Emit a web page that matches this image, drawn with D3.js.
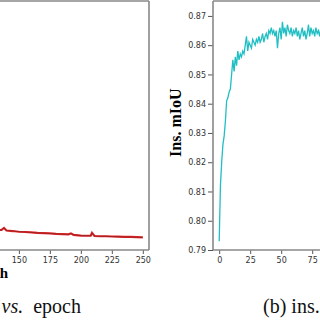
<!DOCTYPE html>
<html>
<head>
<meta charset="utf-8">
<script src="https://cdn.jsdelivr.net/npm/d3@7"></script>
<style>
  body { margin: 0; background: #fff; }
  svg { display: block; }
  .tick text { font-family: "DejaVu Sans", sans-serif; font-size: 8px; fill: #333; }
  .tick line { stroke: #555; }
  .domain { display: none; }
</style>
</head>
<body>
<script>
// loss panel (a), only the tail is in view
var lossEpochs = [120, 125, 130, 134, 136, 138, 140, 145, 150, 155, 160, 165, 170, 175, 180, 185, 190, 192, 194, 200, 205, 208, 209, 211, 215, 220, 225, 230, 235, 240, 245, 250];
var lossValues = [0.090, 0.088, 0.086, 0.084, 0.085, 0.093, 0.082, 0.080, 0.077, 0.076, 0.074, 0.072, 0.071, 0.070, 0.068, 0.067, 0.066, 0.070, 0.064, 0.061, 0.060, 0.060, 0.072, 0.059, 0.058, 0.058, 0.057, 0.056, 0.055, 0.055, 0.054, 0.0535];
var lossTicks = [150, 175, 200, 225, 250];

// ins. mIoU panel (b), epoch 0..82 in view
var miouValues = [0.793, 0.812, 0.820, 0.826, 0.829, 0.834, 0.841, 0.842, 0.844, 0.845,
  0.850, 0.855, 0.851, 0.856, 0.853, 0.858, 0.855, 0.857, 0.856, 0.858,
  0.857, 0.860, 0.863, 0.858, 0.861, 0.860, 0.859, 0.862, 0.861, 0.860,
  0.862, 0.861, 0.863, 0.861, 0.862, 0.864, 0.861, 0.863, 0.864, 0.862,
  0.865, 0.864, 0.866, 0.864, 0.865, 0.863, 0.865, 0.859, 0.864, 0.866,
  0.862, 0.868, 0.864, 0.866, 0.863, 0.867, 0.865, 0.864, 0.866, 0.863,
  0.865, 0.864, 0.866, 0.863, 0.865, 0.862, 0.864, 0.866, 0.863, 0.865,
  0.862, 0.864, 0.867, 0.863, 0.866, 0.864, 0.865, 0.863, 0.866, 0.864,
  0.865, 0.863, 0.866];
var miouYTicks = [0.79, 0.80, 0.81, 0.82, 0.83, 0.84, 0.85, 0.86, 0.87];
var miouXTicks = [0, 25, 50, 75];

var w = 320, h = 320;
var plotTop = 1, plotBottom = 250;

var svg = d3.select('body').append('svg').attr('width', w).attr('height', h);

// ---- panel (a) ----
var xa = d3.scaleLinear().domain([-12.5, 255]).range([-182.5, 149]);
var ya = d3.scaleLinear().domain([0, 1.05]).range([plotBottom, plotTop]);

var ga = svg.append('g');
ga.append('g')
  .attr('transform', 'translate(0,' + plotBottom + ')')
  .call(d3.axisBottom(xa).tickValues(lossTicks).tickSize(4).tickPadding(3));

var lineA = d3.line()
  .x(function(d, i) { return xa(lossEpochs[i]); })
  .y(function(d) { return ya(d); });

ga.append('path').datum(lossValues)
  .attr('d', lineA).attr('fill', 'none')
  .attr('stroke', '#e8262a').attr('stroke-width', 2.2);
ga.append('path').datum(lossValues)
  .attr('d', lineA).attr('fill', 'none')
  .attr('stroke', '#7a1f1f').attr('stroke-width', 0.7);

// spines
var xaEnd = xa.range()[1];
ga.append('line').attr('x1', 0).attr('x2', xaEnd).attr('y1', plotTop).attr('y2', plotTop)
  .attr('stroke', '#888').attr('stroke-width', 1.6);
ga.append('line').attr('x1', xaEnd).attr('x2', xaEnd).attr('y1', plotTop).attr('y2', plotBottom)
  .attr('stroke', '#888').attr('stroke-width', 1.6);
ga.append('line').attr('x1', 0).attr('x2', xaEnd).attr('y1', plotBottom).attr('y2', plotBottom)
  .attr('stroke', '#888').attr('stroke-width', 1.6);

// x label tail and caption
ga.append('text').attr('x', 8).attr('y', 278).attr('text-anchor', 'end')
  .style('font-family', '"Liberation Serif", serif').style('font-weight', 'bold').style('font-size', '15px')
  .text('Epoch');

var capA = ga.append('text').attr('x', 81).attr('y', 313).attr('text-anchor', 'end')
  .style('font-family', '"Liberation Serif", serif').style('font-size', '20px').attr('fill', '#111');
capA.append('tspan').text('(a) training loss ');
capA.append('tspan').style('font-style', 'italic').text('vs.');
capA.append('tspan').text('\u00a0 epoch');

// ---- panel (b) ----
var xb = d3.scaleLinear().domain([-5, 105]).range([213, 213 + 110 * 1.24]);
var yb = d3.scaleLinear().domain([0.79, 0.8751]).range([plotBottom, plotTop]);

var gb = svg.append('g');
gb.append('g')
  .attr('transform', 'translate(0,' + plotBottom + ')')
  .call(d3.axisBottom(xb).tickValues(miouXTicks).tickSize(4).tickPadding(3));
gb.append('g')
  .attr('transform', 'translate(213,0)')
  .call(d3.axisLeft(yb).tickValues(miouYTicks).tickFormat(d3.format('.2f')).tickSize(5).tickPadding(2));

gb.append('path').datum(miouValues)
  .attr('d', d3.line().x(function(d, i) { return xb(i); }).y(function(d) { return yb(d); }))
  .attr('fill', 'none').attr('stroke', '#1fbfc4').attr('stroke-width', 1.3);

gb.append('line').attr('x1', 213).attr('x2', 213).attr('y1', plotTop).attr('y2', plotBottom)
  .attr('stroke', '#888').attr('stroke-width', 1.6);
gb.append('line').attr('x1', 213).attr('x2', w).attr('y1', plotTop).attr('y2', plotTop)
  .attr('stroke', '#888').attr('stroke-width', 1.6);
gb.append('line').attr('x1', 213).attr('x2', w).attr('y1', plotBottom).attr('y2', plotBottom)
  .attr('stroke', '#888').attr('stroke-width', 1.6);

gb.append('text')
  .attr('transform', 'translate(181,' + yb(0.8335) + ') rotate(-90)')
  .attr('text-anchor', 'middle')
  .style('font-family', '"Liberation Serif", serif').style('font-weight', 'bold').style('font-size', '16px')
  .text('Ins. mIoU');

gb.append('text').attr('x', 263).attr('y', 313)
  .style('font-family', '"Liberation Serif", serif').style('font-size', '20px').attr('fill', '#111')
  .text('(b) ins. mIoU vs. epoch');
</script>
</body>
</html>
